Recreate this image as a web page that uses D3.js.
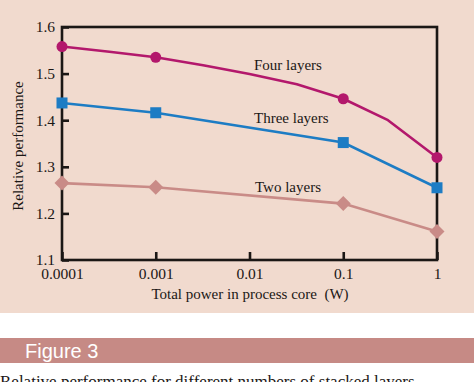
<!DOCTYPE html>
<html><head><meta charset="utf-8">
<script src="https://cdn.jsdelivr.net/npm/d3@7"></script>
<style>body{margin:0;background:#fff}svg{display:block}</style>
</head><body>
<svg id="c" width="474" height="382"></svg>
<script>
const xTicks = [0.0001, 0.001, 0.01, 0.1, 1];
const xTickLabels = ["0.0001", "0.001", "0.01", "0.1", "1"];
const yTicks = [1.1, 1.2, 1.3, 1.4, 1.5, 1.6];
const markerX = [0.0001, 0.001, 0.1, 1];
const fourLayers = [1.558, 1.535, 1.446, 1.32];
const threeLayers = [1.437, 1.416, 1.352, 1.255];
const twoLayers = [1.265, 1.256, 1.221, 1.161];
// four-layer curve read at extra (unmarked) points along the drawn line
const fourCurveX = [0.0001, 0.00032, 0.001, 0.0032, 0.01, 0.032, 0.1, 0.3, 1];
const fourCurveY = [1.558, 1.547, 1.535, 1.518, 1.499, 1.477, 1.446, 1.40, 1.32];
const seriesNames = ["Four layers", "Three layers", "Two layers"];

const svg = d3.select("#c");
svg.append("rect").attr("x",0).attr("y",0).attr("width",474).attr("height",313).attr("fill","#f1dace");

const x = d3.scaleLog().domain([0.0001, 1]).range([62, 437]);
const y = d3.scaleLinear().domain([1.1, 1.6]).range([260, 27]);
const serif = "'Liberation Serif','Times New Roman',serif";

const colors = {four:"#b3186c", three:"#1d7cc4", two:"#c98b87"};

const lin = d3.line().x(d=>x(d[0])).y(d=>y(d[1]));
svg.append("path").datum(d3.zip(fourCurveX, fourCurveY))
  .attr("d", lin).attr("fill","none").attr("stroke",colors.four).attr("stroke-width",2.6)
  .attr("stroke-linejoin","round");
svg.append("path").datum(d3.zip(markerX, threeLayers))
  .attr("d", lin).attr("fill","none").attr("stroke",colors.three).attr("stroke-width",2.6);
svg.append("path").datum(d3.zip(markerX, twoLayers))
  .attr("d", lin).attr("fill","none").attr("stroke",colors.two).attr("stroke-width",2.6);

// axes frame
const fc = "#1b1715";
svg.append("rect").attr("x",x(0.0001)).attr("y",y(1.6))
  .attr("width",x(1)-x(0.0001)).attr("height",y(1.1)-y(1.6))
  .attr("fill","none").attr("stroke",fc).attr("stroke-width",2.6);

const ax = svg.append("g").attr("transform",`translate(0,${y(1.1)})`)
  .call(d3.axisBottom(x).tickValues(xTicks).tickFormat((d,i)=>xTickLabels[i]).tickSize(-8).tickPadding(8));
const ay = svg.append("g").attr("transform",`translate(${x(0.0001)},0)`)
  .call(d3.axisLeft(y).tickValues(yTicks).tickFormat(d3.format(".1f")).tickSize(-7).tickPadding(7));
[ax, ay].forEach(g=>{
  g.select(".domain").remove();
  g.selectAll(".tick line").attr("stroke",fc).attr("stroke-width",2.6);
  g.selectAll("text").attr("font-family",serif).attr("font-size",15.5).attr("fill","#1b1715");
});
ax.selectAll("text").attr("dy","0.71em");

// markers
svg.append("g").selectAll("circle").data(d3.zip(markerX, fourLayers)).join("circle")
  .attr("cx",d=>x(d[0])).attr("cy",d=>y(d[1])).attr("r",5.5).attr("fill",colors.four);
svg.append("g").selectAll("rect").data(d3.zip(markerX, threeLayers)).join("rect")
  .attr("x",d=>x(d[0])-5.5).attr("y",d=>y(d[1])-5.5).attr("width",11).attr("height",11).attr("fill",colors.three);
svg.append("g").selectAll("path").data(d3.zip(markerX, twoLayers)).join("path")
  .attr("d",d=>{const cx=x(d[0]),cy=y(d[1]);return `M${cx},${cy-7.5}L${cx+7.5},${cy}L${cx},${cy+7.5}L${cx-7.5},${cy}Z`;})
  .attr("fill",colors.two);

// series labels
const labelPos = [[254,70],[254,123],[255,192]];
seriesNames.forEach((n,i)=>{
  svg.append("text").attr("x",labelPos[i][0]).attr("y",labelPos[i][1]).text(n)
    .attr("font-family",serif).attr("font-size",15).attr("fill","#1b1715");
});

// axis titles
svg.append("text").attr("x",250).attr("y",299).attr("text-anchor","middle")
  .attr("font-family",serif).attr("font-size",15).attr("fill","#1b1715").attr("xml:space","preserve")
  .text("Total power in process core  (W)");
svg.append("text").attr("transform","translate(23,146) rotate(-90)").attr("text-anchor","middle")
  .attr("font-family",serif).attr("font-size",15).attr("fill","#1b1715")
  .text("Relative performance");

// figure caption bar
svg.append("rect").attr("x",0).attr("y",338).attr("width",474).attr("height",25).attr("fill","#c68a85");
svg.append("text").attr("x",25).attr("y",358).text("Figure 3")
  .attr("font-family","'Liberation Sans',Arial,sans-serif").attr("font-size",20).attr("fill","#fff");
svg.append("text").attr("x",0).attr("y",387).text("Relative performance for different numbers of stacked layers")
  .attr("font-family",serif).attr("font-size",17).attr("fill","#1b1715");
</script>
</body></html>
